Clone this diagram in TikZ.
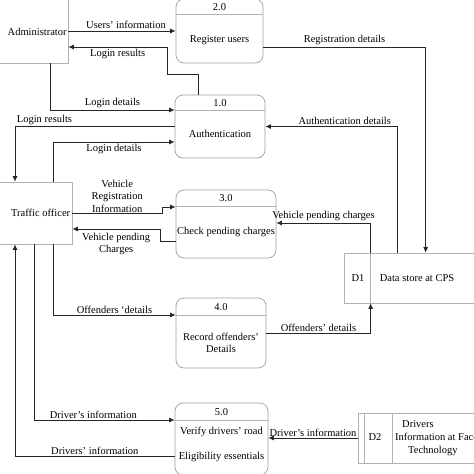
\documentclass[tikz,border=0pt]{standalone}
\usepackage{fontspec}
\setmainfont{Liberation Serif}
\usetikzlibrary{arrows.meta,positioning}

\tikzset{
  proc/.style={draw=gray!75, line width=0.7pt, rounded corners=8pt, inner sep=0pt},
  entity/.style={draw=gray!60, line width=0.7pt, inner sep=0pt},
  store/.style={draw=gray!60, line width=0.7pt, inner sep=0pt},
  divider/.style={draw=gray!60, line width=0.6pt},
  flow/.style={draw=black!85, line width=0.8pt, -{Latex[length=5.5pt,width=5pt]}},
  lbl/.style={inner sep=1.5pt, align=center, font=\fontsize{10.5}{12.5}\selectfont}
}

\begin{document}
\begin{tikzpicture}[x=1pt, y=-1pt, font=\fontsize{10.5}{12}\selectfont]
  \useasboundingbox (0,0) rectangle (474,474);
  \clip (0,0) rectangle (474,474);
  % external entities
  \node[entity, minimum width=88pt, minimum height=80pt] (admin) at (24,23) {};
  \node[anchor=east, inner sep=0pt] (admintext) at ([xshift=-1.5pt,yshift=-9pt]admin.east) {Administrator};
  \node[entity, minimum width=92pt, minimum height=62pt] (officer) at (26,213) {};
  \node[anchor=east, inner sep=0pt] (officertext) at ([xshift=-2pt]officer.east) {Traffic officer};
  % processes
  \node[proc, minimum width=87pt, minimum height=64pt] (p2) at (219.5,31) {};
  \node[proc, minimum width=90pt, minimum height=63pt] (p1) at (220,126.5) {};
  \node[proc, minimum width=100pt, minimum height=68pt] (p3) at (226,224) {};
  \node[proc, minimum width=90pt, minimum height=70pt] (p4) at (221,333) {};
  \node[proc, minimum width=93pt, minimum height=72pt] (p5) at (221.5,439) {};
  \foreach \pid/\num/\hd/\sh/\txt in {p2/2.0/16/9/{Register users}, p1/1.0/16/7.5/{Authentication},
      p3/3.0/17/8/{Check pending charges}, p4/4.0/18/10/{Record offenders'\\Details},
      p5/5.0/18/5.5/{Verify drivers' road\\[13pt]Eligibility essentials}} {
    \draw[divider] ([yshift=-\hd pt]\pid.north west) -- ([yshift=-\hd pt]\pid.north east);
    \node (\pid-num) at ([yshift=-0.5*\hd pt]\pid.north) {\num};
    \node[align=center] (\pid-name) at ([yshift=-\sh pt]\pid.center) {\txt};
  }
  % data stores
  \node[store, minimum width=146pt, minimum height=50pt] (d1) at (417,278) {Data store at CPS};
  \draw[divider] ([xshift=27pt]d1.north west) -- ([xshift=27pt]d1.south west);
  \node (d1id) at (358,278) {D1};
  \node[store, minimum width=142pt, minimum height=50pt] (d2) at (429,438) {};
  \draw[divider] ([xshift=7pt]d2.north west) -- ([xshift=7pt]d2.south west);
  \draw[divider] ([xshift=35pt]d2.north west) -- ([xshift=35pt]d2.south west);
  \node (d2id) at (375,437) {D2};
  \node[anchor=west, align=left, inner sep=0pt, font=\fontsize{10.5}{13}\selectfont] (d2text) at (395,438)
    {\hspace*{7pt}Drivers\\Information at Face\\\hspace*{13pt}Technology};
  % data flows
  \draw[flow] (p2.west -| admin.east) -- node[lbl, above, xshift=4pt]{Users' information} (p2.west);
  \draw[flow] ([xshift=-22pt]p1.north) |- (167,74) |- node[lbl, below, pos=0.75]{Login results} (admin.east |- 0,47);
  \draw[flow] ([xshift=-18pt]admin.south east) |- node[lbl, above, pos=0.75]{Login details} ([yshift=16.5pt]p1.west);
  \draw[flow] (p1.west) -| node[lbl, above right, pos=0.5]{Login results} (officer.north -| 15,0);
  \draw[flow] ([xshift=-19pt]officer.north east) |- node[lbl, below, pos=0.75]{Login details} ([yshift=-15.5pt]p1.west);
  \draw[flow] (officer.east) -- node[lbl, above, inner sep=0.5pt]{Vehicle\\Registration\\Information} (162,213) |- ([yshift=17pt]p3.west);
  \draw[flow] ([yshift=-17pt]p3.west) -- (160,241) |- node[lbl, below, pos=0.75, yshift=-2pt, font=\fontsize{10.5}{12}\selectfont]{Vehicle pending\\Charges} ([yshift=-16pt]officer.east);
  \draw[flow] ([xshift=27pt]d1.north west) |- node[lbl, above, pos=0.75]{Vehicle pending charges} ([yshift=1pt]p3.east);
  \draw[flow] ([xshift=54pt]d1.north west) |- node[lbl, above, pos=0.7]{Authentication details} (p1.east);
  \draw[flow] ([yshift=-16pt]p2.east) -| node[lbl, above, pos=0.25]{Registration details} ([xshift=82pt]d1.north west);
  \draw[flow] ([xshift=-19pt]officer.south east) |- node[lbl, above, pos=0.75]{Offenders ‘details} ([yshift=18pt]p4.west);
  \draw[flow] (p4.east) -| node[lbl, above, pos=0.25]{Offenders' details} ([xshift=27pt]d1.south west);
  \draw[flow] ([xshift=-38pt]officer.south east) |- node[lbl, above, pos=0.71]{Driver's information} ([yshift=19pt]p5.west);
  \draw[flow] ([yshift=-17pt]p5.west) -| node[lbl, above, pos=0.25]{Drivers' information} (officer.south -| 15,0);
  \draw[flow] (d2.west) -- node[lbl, above]{Driver's information} (p5.east |- d2.west);
\end{tikzpicture}
\end{document}
